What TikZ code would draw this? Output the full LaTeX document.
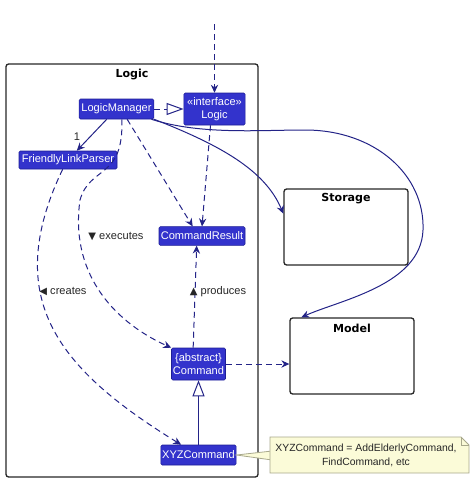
\documentclass[tikz,border=0pt]{standalone}
\usepackage{fontspec}
\setmainfont{Liberation Sans}
\newfontfamily\symfont{DejaVu Sans}
\usetikzlibrary{arrows.meta}

\definecolor{clsfill}{RGB}{51,51,204}
\definecolor{clsline}{RGB}{30,30,150}
\definecolor{arrowc}{RGB}{35,35,135}
\definecolor{notefill}{RGB}{251,251,216}
\definecolor{noteline}{RGB}{168,168,140}

\tikzset{
  cls/.style={draw=clsline, fill=clsfill, text=white, rounded corners=1pt, inner sep=1pt, align=center, font=\fontsize{8.3}{9.7}\selectfont},
  pkg/.style={draw=black!85, line width=1pt, rounded corners=2pt},
  pkgtitle/.style={font=\symfont\bfseries\fontsize{8.3}{10}\selectfont},
  dep/.style={draw=arrowc, line width=0.75pt, dash pattern=on 4.5pt off 3pt, -{Stealth[length=6pt,width=5.5pt,inset=2pt]}},
  assoc/.style={draw=arrowc, line width=0.75pt, -{Stealth[length=6pt,width=5.5pt,inset=2pt]}},
  lbl/.style={font=\fontsize{8.3}{10.5}\selectfont, text=black!85}
}

\begin{document}
\begin{tikzpicture}[x=0.75pt, y=-0.75pt]
	\useasboundingbox (0,0) rectangle (474,482);
	% Logic package
	\draw[pkg] (6,64) rectangle (258,477);
	\node[pkgtitle] (logictitle) at (132,74) {Logic};
	\node[cls, minimum width=56pt, minimum height=15pt] (lm) at (116.5,109) {LogicManager};
	\node[cls, minimum width=46pt, minimum height=24pt] (logic) at (214.5,109) {«interface»\\Logic};
	\node[cls, minimum width=73.5pt, minimum height=13.5pt] (flp) at (68,160) {FriendlyLinkParser};
	\node[cls, minimum width=64.5pt, minimum height=14pt] (cr) at (202,236) {CommandResult};
	\node[cls, minimum width=40.5pt, minimum height=24pt] (cmd) at (198.5,364) {\{abstract\}\\Command};
	\node[cls, minimum width=56pt, minimum height=15pt] (xyz) at (198.5,455) {XYZCommand};
	% other packages
	\node[pkg, minimum width=93pt, minimum height=57pt] (storage) at (346,227) {};
	\node[pkgtitle] at (346,199) {Storage};
	\node[pkg, minimum width=93pt, minimum height=57pt] (model) at (352,356) {};
	\node[pkgtitle] at (352,328) {Model};
	% connectors
	\coordinate (entry) at (214.5,24);
	\draw[dep] (entry) -- (logic.north);
	\draw[assoc] (lm) -- (flp);
	\node[lbl] at (77,137) {1};
	\draw[arrowc, line width=0.75pt, dash pattern=on 4.5pt off 3pt, -{Triangle[open, fill=white, length=12.75pt, width=9pt]}] (lm) -- (logic);
	\draw[assoc] (lm.south east) .. controls (220,145) and (265,170) .. ([yshift=10pt]storage.west);
	\draw[assoc] ([xshift=-2pt]lm.south east) .. controls (200,135) and (260,130) .. (305,130)
		.. controls (375,130) and (425,175) .. (423,230)
		.. controls (421,285) and (340,300) .. ([xshift=9pt]model.north west);
	\draw[dep] ([xshift=8pt]lm.south) -- ([xshift=-7pt]cr.north);
	\draw[dep] ([xshift=-3pt]logic.south) -- (cr.north);
	\draw[dep] ([xshift=4pt]lm.south) .. controls (124,180) and (90,165) .. (80,200)
		.. controls (70,270) and (110,320) .. (cmd.north west);
	\node[lbl] at (116,237) {{\symfont\fontsize{7.5}{8}\selectfont ▼} executes};
	\draw[dep] ([xshift=-4pt]flp.south) .. controls (0,300) and (60,370) .. ([xshift=-13pt]xyz.north);
	\node[lbl] at (63,292) {{\symfont\fontsize{7.5}{8}\selectfont ◀} creates};
	\draw[dep] ([xshift=-4pt]cmd.north) -- ([xshift=-4pt]cr.south);
	\node[lbl] at (218,292) {{\symfont\fontsize{7.5}{8}\selectfont ▲} produces};
	\draw[dep] (cmd.east) -- (cmd.east -| model.west);
	\draw[arrowc, line width=0.75pt, -{Triangle[open, fill=white, length=12pt, width=9pt]}] (xyz) -- (cmd);
	% note
	\draw[noteline, fill=notefill, line width=0.6pt] (xyz.east) -- (272,451) -- (272,460) -- cycle;
	\draw[noteline, fill=notefill, line width=0.6pt] (270,437) -- (461,437) -- (469,445) -- (469,473) -- (270,473) -- cycle;
	\draw[noteline, line width=0.6pt] (461,437) -- (461,445) -- (469,445);
	\node[lbl, align=center, font=\fontsize{7.8}{10.5}\selectfont] (note) at (366,455) {XYZCommand = AddElderlyCommand,\\FindCommand, etc};
\end{tikzpicture}
\end{document}
